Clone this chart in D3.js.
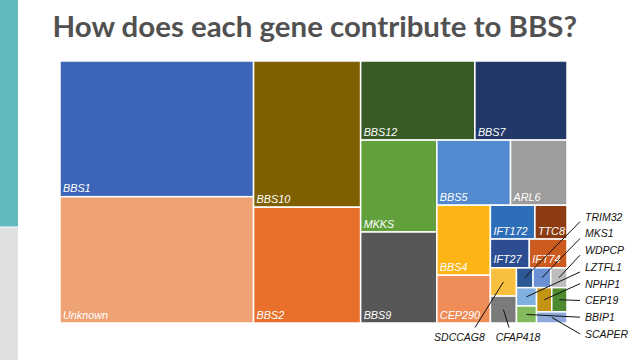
<!DOCTYPE html>
<html><head><meta charset="utf-8">
<script src="https://cdn.jsdelivr.net/npm/d3@7"></script>
<style>body{margin:0;background:#fff;overflow:hidden}</style>
</head><body>
<svg id="c" width="640" height="360"></svg>
<script>
// ---- data ----
const title = "How does each gene contribute to BBS?";
const genes = ["BBS1","Unknown","BBS10","BBS2","BBS12","BBS7","MKKS","BBS9","BBS5","ARL6","BBS4","CEP290",
  "IFT172","TTC8","IFT27","IFT74","SDCCAG8","CFAP418","TRIM32","MKS1","WDPCP","LZTFL1","BBIP1","NPHP1","CEP19","SCAPER"];
const values = [75.0,69.8,44.7,35.4,25.8,20.8,20.0,19.8,13.7,10.5,10.7,7.3,
  4.3,3.1,3.2,3.1,2.1,2.0,0.94,1.0,0.92,1.05,0.98,1.05,1.05,0.97];
const colors = ["#3c65b8","#efa273","#7f6000","#e8702b","#385a24","#213868","#61a03b","#575757","#518ace","#9d9d9d","#fdb515","#ef8c58",
  "#2e6db7","#8c3c10","#2c4d91","#cd5a1e","#f8c03c","#7b7b7b","#2c5896","#6b90d3","#bdbdbd","#80b0e0","#83ba5e","#c59413","#4d8a30","#8eaadc"];
const rightLabels = ["TRIM32","MKS1","WDPCP","LZTFL1","NPHP1","CEP19","BBIP1","SCAPER"];
const bottomLabels = ["SDCCAG8","CFAP418"];

// ---- layout ----
const svg = d3.select("#c");
svg.append("rect").attr("x",0).attr("y",0).attr("width",18).attr("height",226.5).attr("fill","#61b9be");
svg.append("rect").attr("x",0).attr("y",227.5).attr("width",18).attr("height",132.5).attr("fill","#e0dfe0");

const t = svg.append("text").attr("x",52.5).attr("y",36.7)
  .attr("font-family","Lato, 'Noto Sans', sans-serif").attr("font-weight",700)
  .attr("font-size",28).attr("fill","#515151").text(title);
t.attr("textLength",524.5).attr("lengthAdjust","spacingAndGlyphs");

const X0 = 60, Y0 = 61, W = 507, H = 262;
const root = d3.hierarchy({children: genes.map((g,i)=>({name:g, value:values[i], color:colors[i]}))})
  .sum(d => d.value || 0);
d3.treemap().tile(d3.treemapSquarify.ratio(1)).size([W,H])(root);
const leaves = root.leaves();
const byName = {}; leaves.forEach(l => byName[l.data.name] = l);

const g = svg.append("g").attr("transform",`translate(${X0},${Y0})`);
g.selectAll("rect").data(leaves).join("rect")
  .attr("x",d=>d.x0).attr("y",d=>d.y0)
  .attr("width",d=>d.x1-d.x0).attr("height",d=>d.y1-d.y0)
  .attr("fill",d=>d.data.color).attr("stroke","#fff").attr("stroke-width",1.5);

const inside = leaves.filter(d => !rightLabels.includes(d.data.name) && !bottomLabels.includes(d.data.name));
g.selectAll("text.in").data(inside).join("text").attr("class","in")
  .attr("x",d=>d.x0+3).attr("y",d=>d.y1-4.5)
  .attr("font-family","'Liberation Sans', Arial, sans-serif").attr("font-style","italic")
  .attr("font-size",10.8).attr("fill","#fff").text(d=>d.data.name);

// external labels + leader lines
const cx = d => X0 + (d.x0+d.x1)/2, cy = d => Y0 + (d.y0+d.y1)/2;
const lines = svg.append("g").attr("stroke","#111").attr("stroke-width",1);
const labs = svg.append("g").attr("font-family","'Liberation Sans', Arial, sans-serif")
  .attr("font-style","italic").attr("font-size",10.5).attr("fill","#111");

rightLabels.forEach((name,i) => {
  const d = byName[name];
  const ly = 216.7 + i*16.75;
  const ay = (cy(d) - ly > 25) ? ly + 5 : ly;
  lines.append("line").attr("x1",cx(d)).attr("y1",cy(d)).attr("x2",580).attr("y2",ay);
  labs.append("text").attr("x",585).attr("y",ly+3.8).text(name);
});
const bottomPos = [{x:459.5, dx:15.5},{x:518, dx:-9}];
bottomLabels.forEach((name,i) => {
  const d = byName[name];
  const p = bottomPos[i];
  lines.append("line").attr("x1",cx(d)).attr("y1",cy(d)).attr("x2",p.x+p.dx).attr("y2",327.5);
  labs.append("text").attr("x",p.x).attr("y",336.7+3.8).attr("text-anchor","middle").text(name);
});
</script>
</body></html>
